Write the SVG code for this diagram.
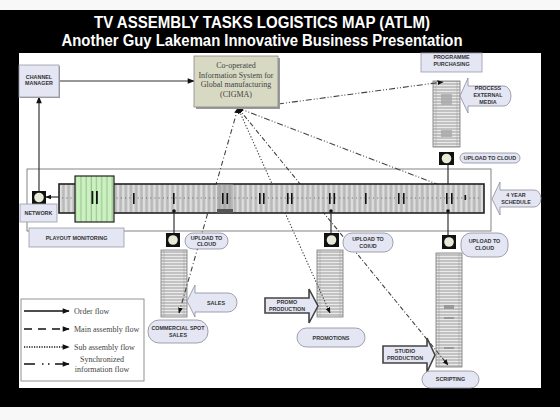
<svg xmlns="http://www.w3.org/2000/svg" width="560" height="420" viewBox="0 0 560 420">
<defs>
<style>
.t{font-family:"Liberation Sans",Arial,sans-serif;font-weight:bold;fill:#333;text-anchor:middle;font-size:5.4px}
.s{font-family:"Liberation Serif","Times New Roman",serif;fill:#444;font-size:8px}
.lav{fill:#e4e6f4;stroke:#8a8a9a;stroke-width:0.8}
.box{fill:#e4e6f4;stroke:#9a9aa8;stroke-width:0.8}
.ico{fill:#111}
.icc{fill:#e6ead6}
.stk{fill:url(#hl);stroke:#777;stroke-width:0.8}
.ln{fill:none;stroke:#333;stroke-width:1.2}
.c{fill:none;stroke:#444;stroke-width:1.1}
.lg{fill:none;stroke:#111;stroke-width:1.3}
</style>
<pattern id="vl" patternUnits="userSpaceOnUse" width="5.2" height="40" x="59" y="0">
<rect width="5.2" height="40" fill="#b9b9b9"/><rect x="0.6" width="2.4" height="40" fill="#dedede"/>
</pattern>
<pattern id="gl" patternUnits="userSpaceOnUse" width="5.2" height="50" x="59" y="0">
<rect width="5.2" height="50" fill="#c9f2be"/><rect x="0.6" width="1" height="50" fill="#9cba94"/>
</pattern>
<pattern id="hl" patternUnits="userSpaceOnUse" width="30" height="3">
<rect width="30" height="3" fill="#c2c2c2"/><rect y="1" width="30" height="0.9" fill="#efefef"/>
</pattern>
<marker id="arr" viewBox="0 0 10 10" refX="9" refY="5" markerWidth="6" markerHeight="6" orient="auto-start-reverse" markerUnits="userSpaceOnUse">
<path d="M0,1 L10,5 L0,9 Z" fill="#111"/>
</marker>
<marker id="arrL" viewBox="0 0 10 10" refX="9" refY="5" markerWidth="9" markerHeight="7" orient="auto" markerUnits="userSpaceOnUse">
<path d="M0,1 L10,5 L0,9 Z" fill="#111"/>
</marker>
</defs>

<rect width="560" height="420" fill="#f8f8f8"/>
<rect x="0" y="10" width="560" height="397" fill="#000"/>
<rect x="19" y="53" width="522" height="335" fill="#fff"/>

<g id="title" font-family="Liberation Sans,Arial,sans-serif" font-weight="bold" fill="#fff" text-anchor="middle" font-size="16">
<text x="262" y="28" textLength="336" lengthAdjust="spacingAndGlyphs">TV ASSEMBLY TASKS LOGISTICS MAP (ATLM)</text>
<text x="262" y="46" textLength="401" lengthAdjust="spacingAndGlyphs">Another Guy Lakeman Innovative Business Presentation</text>
</g>

<g id="band">
<rect x="27" y="169" width="464" height="62" fill="none" stroke="#777" stroke-width="0.9"/>
</g>

<g id="stack-commercial"><rect class="stk" x="161" y="250" width="26" height="67"/><line x1="164" y1="250" x2="164" y2="317" stroke="#999" stroke-width="0.5"/><line x1="184" y1="250" x2="184" y2="317" stroke="#999" stroke-width="0.5"/></g>
<g id="stack-promotions"><rect class="stk" x="317" y="250" width="26" height="67"/><line x1="320" y1="250" x2="320" y2="317" stroke="#999" stroke-width="0.5"/><line x1="340" y1="250" x2="340" y2="317" stroke="#999" stroke-width="0.5"/></g>
<g id="stack-scripting"><rect class="stk" x="436" y="253" width="26" height="114"/><line x1="439" y1="253" x2="439" y2="367" stroke="#999" stroke-width="0.5"/><line x1="459" y1="253" x2="459" y2="367" stroke="#999" stroke-width="0.5"/><rect x="444" y="305" width="10" height="4" fill="#999"/><rect x="444" y="317" width="10" height="2" fill="#999"/><rect x="444" y="347" width="10" height="2" fill="#999"/></g>
<g id="stack-external"><rect class="stk" x="433" y="81" width="27" height="66"/><line x1="436" y1="81" x2="436" y2="147" stroke="#999" stroke-width="0.5"/><line x1="457" y1="81" x2="457" y2="147" stroke="#999" stroke-width="0.5"/><rect x="441" y="94" width="11" height="11" fill="#a8a8a8" opacity="0.8"/><rect x="441" y="130" width="11" height="7" fill="#a8a8a8" opacity="0.8"/></g>

<g id="connectors">
<path class="ln" d="M59,81 H194" marker-end="url(#arrL)"/>
<path class="ln" d="M39,191 V97" marker-end="url(#arrL)"/>
<path class="ln" d="M59,197 H46" marker-end="url(#arr)"/>
<path class="ln" d="M174,211 V233"/>
<path class="ln" d="M331,211 V233"/>
<path class="ln" d="M448,165 V184 M448,211 V235"/>
<path class="c" d="M238,108 L179,313" stroke-dasharray="5 2.5 1 2.5" marker-start="url(#arr)" marker-end="url(#arr)"/>
<path class="c" d="M238,108 L330,313" stroke-dasharray="1.3 1.8" marker-start="url(#arr)" marker-end="url(#arr)"/>
<path class="c" d="M238,108 L448,365" stroke-dasharray="4.5 2 1 2" marker-start="url(#arr)" marker-end="url(#arr)"/>
<path class="c" d="M238,108 L442,186" stroke-dasharray="6 2 1 2 1 2" marker-start="url(#arr)"/>
<path class="c" d="M278,104 L443,82" stroke-dasharray="6 2 1 2 1 2" marker-end="url(#arr)"/>
</g>

<g id="strip">
<rect x="59" y="184" width="425" height="29" fill="url(#vl)" stroke="#222" stroke-width="1.6"/>
<line x1="62" y1="198" x2="482" y2="198" stroke="#555" stroke-width="0.7" stroke-dasharray="1.2 3"/>
<rect x="217" y="184" width="16" height="29" fill="#999" opacity="0.5"/>
<rect x="217" y="209" width="16" height="4" fill="#555"/>
<g fill="#111">
<rect x="133" y="193" width="1.6" height="11"/><rect x="173" y="193" width="1.6" height="11"/>
<rect x="222" y="193" width="1.6" height="11"/><rect x="226.5" y="193" width="1.6" height="11"/>
<rect x="259" y="193" width="1.6" height="11"/><rect x="263" y="193" width="1.6" height="11"/>
<rect x="287" y="193" width="1.6" height="11"/><rect x="291" y="193" width="1.6" height="11"/>
<rect x="329" y="193" width="1.6" height="11"/><rect x="333.5" y="193" width="1.6" height="11"/>
<rect x="365" y="193" width="1.6" height="11"/>
<rect x="398" y="193" width="1.6" height="11"/><rect x="403" y="193" width="1.6" height="11"/>
<rect x="446" y="193" width="1.6" height="11"/><rect x="451" y="193" width="1.6" height="11"/>
<rect x="464.5" y="195" width="1.6" height="5"/>
</g>
<g fill="#111"><circle cx="174" cy="211" r="1.8"/><circle cx="331" cy="211" r="1.8"/><circle cx="448" cy="211" r="1.8"/></g>
</g>

<g id="green-block">
<rect x="75" y="176" width="39" height="46" fill="url(#gl)" stroke="#222" stroke-width="1.2"/>
<rect x="91.5" y="191" width="1.8" height="13" fill="#111"/><rect x="96" y="191" width="1.8" height="13" fill="#111"/>
</g>

<g id="cigma">
<rect x="196" y="58" width="84" height="51" fill="#999"/>
<rect x="194" y="56" width="84" height="51" fill="#d7d9c3" stroke="#888" stroke-width="0.8"/>
<g class="s" text-anchor="middle" font-size="7.5"><text x="236" y="68">Co-operated</text><text x="236" y="78">Information System for</text><text x="236" y="87">Global manufacturing</text><text x="236" y="97">(CIGMA)</text></g>
</g>

<g id="channel-manager">
<rect x="20" y="66" width="40" height="32" fill="#999"/>
<rect class="box" x="19" y="65" width="40" height="32"/>
<text class="t" x="39" y="79">CHANNEL</text><text class="t" x="39" y="85">MANAGER</text>
</g>

<g id="programme-purchasing">
<rect class="box" x="421" y="53" width="61" height="19"/>
<text class="t" x="451.5" y="59">PROGRAMME</text><text class="t" x="451.5" y="66">PURCHASING</text>
</g>

<g id="process-external-media">
<path class="lav" d="M460,96 L468,78 V86 H504 A7,10 0 0 1 504,106 H468 V113 Z"/>
<text class="t" x="488" y="90">PROCESS</text><text class="t" x="488" y="97">EXTERNAL</text><text class="t" x="488" y="103.5">MEDIA</text>
</g>

<g id="upload-top">
<rect class="ico" x="439" y="152" width="15" height="13"/><circle class="icc" cx="446.5" cy="158.5" r="4.8"/>
<rect class="lav" x="460" y="153" width="60" height="10" rx="5"/>
<text class="t" x="490" y="160">UPLOAD TO CLOUD</text>
</g>

<g id="four-year-schedule">
<path class="lav" d="M492,199 L500,182 V190 H534 A7,8.5 0 0 1 534,207 H500 V215 Z"/>
<text class="t" x="516" y="197">4 YEAR</text><text class="t" x="516" y="203.5">SCHEDULE</text>
</g>

<g id="network">
<rect class="ico" x="32" y="191" width="14" height="13"/><circle class="icc" cx="39" cy="197.5" r="4.8"/>
<rect class="box" x="20" y="204" width="37" height="18"/>
<text class="t" x="38.5" y="215">NETWORK</text>
</g>

<g id="playout-monitoring">
<rect class="box" x="29" y="228" width="95" height="19"/>
<text class="t" x="76.5" y="239.5">PLAYOUT MONITORING</text>
</g>

<g id="upload-1">
<rect class="ico" x="166" y="233" width="14" height="14"/><circle class="icc" cx="173" cy="240" r="4.8"/>
<rect class="lav" x="185" y="233" width="43" height="16" rx="8"/>
<text class="t" x="206.5" y="239.5">UPLOAD TO</text><text class="t" x="206.5" y="246">CLOUD</text>
</g>

<g id="upload-2">
<rect class="ico" x="324" y="233" width="15" height="14"/><circle class="icc" cx="331.5" cy="240" r="4.8"/>
<rect class="lav" x="343" y="233" width="50" height="19" rx="9"/>
<text class="t" x="368" y="241">UPLOAD TO</text><text class="t" x="368" y="247.5">COIUD</text>
</g>

<g id="upload-3">
<rect class="ico" x="442" y="235" width="14" height="14"/><circle class="icc" cx="449" cy="242" r="4.8"/>
<rect class="lav" x="461" y="233" width="47" height="24" rx="10"/>
<text class="t" x="484.5" y="242.5">UPLOAD TO</text><text class="t" x="484.5" y="249.5">CLOUD</text>
</g>

<g id="sales">
<path class="lav" d="M187,301 L195,285 V293 H228 A9,9.5 0 0 1 228,312 H195 V317 Z"/>
<text class="t" x="216" y="304.5">SALES</text>
</g>

<g id="commercial-spot-sales">
<rect class="lav" x="148" y="320" width="60" height="23" rx="11"/>
<text class="t" x="178" y="330">COMMERCIAL SPOT</text><text class="t" x="178" y="336.5">SALES</text>
</g>

<g id="promo-production">
<path d="M265,298 H309 V289 L318,306 L309,323 V313 H265 Z" fill="#e4e6f4" stroke="#444" stroke-width="1.6"/>
<text class="t" x="287" y="304">PROMO</text><text class="t" x="287" y="310.5">PRODUCTION</text>
</g>

<g id="promotions">
<rect class="lav" x="297" y="328" width="68" height="19" rx="9.5"/>
<text class="t" x="331" y="339.5">PROMOTIONS</text>
</g>

<g id="studio-production">
<path d="M383,346 H427 V338 L435,355 L427,372 V363 H383 Z" fill="#e4e6f4" stroke="#444" stroke-width="1.6"/>
<text class="t" x="405" y="353">STUDIO</text><text class="t" x="405" y="359.5">PRODUCTION</text>
</g>

<g id="scripting">
<rect class="lav" x="422" y="371" width="57" height="17" rx="8.5"/>
<text class="t" x="450.5" y="380.5">SCRIPTING</text>
</g>

<g id="legend">
<rect x="21" y="299" width="123" height="82" fill="#fff" stroke="#888" stroke-width="0.9"/>
<path class="lg" d="M24,311 H69" marker-end="url(#arrL)"/>
<path class="lg" d="M24,329 H69" stroke-dasharray="8 6" marker-end="url(#arrL)"/>
<path class="lg" d="M24,347 H69" stroke-dasharray="1.2 1.3" marker-end="url(#arrL)"/>
<path class="lg" d="M24,364 H35 M42,364 H43.5 M48,364 H49.5 M55,364 H69" marker-end="url(#arrL)"/>
<text class="s" x="74" y="313.5">Order flow</text>
<text class="s" x="74" y="331.5">Main assembly flow</text>
<text class="s" x="74" y="349.5">Sub assembly flow</text>
<text class="s" x="102" y="362" text-anchor="middle">Synchronized</text>
<text class="s" x="102" y="371.5" text-anchor="middle">information flow</text>
</g>
</svg>
